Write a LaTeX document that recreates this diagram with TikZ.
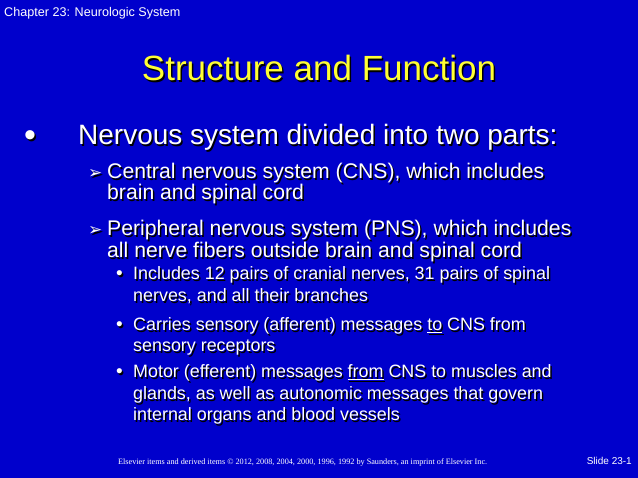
\documentclass[tikz,border=0pt]{standalone}
\usepackage{fontspec}
\setmainfont{Liberation Sans}
\newfontfamily\dvs{DejaVu Sans}
\newfontfamily\tms{Liberation Serif}
\definecolor{bg}{RGB}{0,0,204}
\definecolor{ttl}{RGB}{255,255,51}
\newcommand\sh[5]{%
  \node[anchor=base west,inner sep=0pt,text=black,font=#4] (#1s) at (#2+1.5,#3+1.5) {#5};
  \node[anchor=base west,inner sep=0pt,font=#4] (#1) at (#2,#3) {#5};}
\begin{document}
\begin{tikzpicture}[x=1pt,y=-1pt,every node/.style={text=white}]
\fill[bg] (0,0) rectangle (638,478);
\useasboundingbox (0,0) rectangle (638,478);
\node[anchor=base west,inner sep=0pt,font=\fontsize{12.6}{14}\selectfont] (hdr) at (4,17) {Chapter 23: Neurologic System};
\node[anchor=base,inner sep=0pt,text=black,font=\fontsize{35}{40}\selectfont] (tts) at (320.5,82.5) {Structure and Function};
\node[anchor=base,inner sep=0pt,text=ttl,font=\fontsize{35}{40}\selectfont] (tt) at (319,81) {Structure and Function};
\sh{b1}{24}{147}{\fontsize{34}{36}\selectfont}{•}
\sh{l1}{78}{145}{\fontsize{28}{32}\selectfont}{Nervous system divided into two parts:}
\sh{b2}{88}{179}{\dvs\fontsize{17}{20}\selectfont}{➢}
\sh{l2a}{107}{179}{\fontsize{21.2}{24}\selectfont}{Central nervous system (CNS), which includes}
\sh{l2b}{107}{200}{\fontsize{21.2}{24}\selectfont}{brain and spinal cord}
\sh{b3}{88}{236}{\dvs\fontsize{17}{20}\selectfont}{➢}
\sh{l3a}{107}{236}{\fontsize{21.2}{24}\selectfont}{Peripheral nervous system (PNS), which includes}
\sh{l3b}{107}{258}{\fontsize{21.2}{24}\selectfont}{all nerve fibers outside brain and spinal cord}
\sh{c1}{116}{280}{\fontsize{19}{20}\selectfont}{•}
\sh{m1a}{133}{280}{\fontsize{17.9}{20}\selectfont}{Includes 12 pairs of cranial nerves, 31 pairs of spinal}
\sh{m1b}{133}{302}{\fontsize{17.9}{20}\selectfont}{nerves, and all their branches}
\sh{c2}{116}{331}{\fontsize{19}{20}\selectfont}{•}
\sh{m2a}{133}{331}{\fontsize{17.9}{20}\selectfont}{Carries sensory (afferent) messages \underline{to} CNS from}
\sh{m2b}{133}{352}{\fontsize{17.9}{20}\selectfont}{sensory receptors}
\sh{c3}{116}{378}{\fontsize{19}{20}\selectfont}{•}
\sh{m3a}{133}{378}{\fontsize{17.9}{20}\selectfont}{Motor (efferent) messages \underline{from} CNS to muscles and}
\sh{m3b}{133}{400}{\fontsize{17.9}{20}\selectfont}{glands, as well as autonomic messages that govern}
\sh{m3c}{133}{421}{\fontsize{17.9}{20}\selectfont}{internal organs and blood vessels}
\node[anchor=base west,inner sep=0pt,font=\tms\fontsize{8.2}{10}\selectfont] (ft) at (118,465) {Elsevier items and derived items © 2012, 2008, 2004, 2000, 1996, 1992 by Saunders, an imprint of Elsevier Inc.};
\node[anchor=base east,inner sep=0pt,font=\fontsize{10}{12}\selectfont] (sn) at (632,465) {Slide 23-1};
\end{tikzpicture}
\end{document}
